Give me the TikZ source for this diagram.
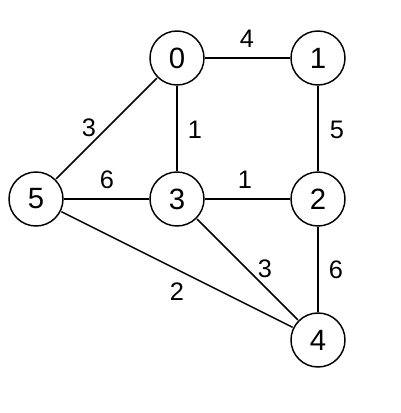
\documentclass[tikz,border=0pt]{standalone}
\usepackage{fontspec}
\setmainfont{Liberation Sans}
\begin{document}
\begin{tikzpicture}[x=0.75pt,y=-0.75pt,
  vert/.style={circle,draw,line width=1.1pt,minimum size=40.5pt,inner sep=0pt,outer sep=1pt,font=\fontsize{22}{22}\selectfont},
  wlab/.style={font=\fontsize{19}{19}\selectfont,inner sep=0pt},
  conn/.style={line width=1.1pt}]
\useasboundingbox (0,0) rectangle (400,413);
\node[vert] (n0) at (177,58) {0};
\node[vert] (n1) at (318,58) {1};
\node[vert] (n5) at (36,199) {5};
\node[vert] (n3) at (177,199) {3};
\node[vert] (n2) at (318,199) {2};
\node[vert] (n4) at (318,340) {4};
\draw[conn] (n0) -- (n1);
\draw[conn] (n1) -- (n2);
\draw[conn] (n0) -- (n3);
\draw[conn] (n0) -- (n5);
\draw[conn] (n5) -- (n3);
\draw[conn] (n3) -- (n2);
\draw[conn] (n3) -- (n4);
\draw[conn] (n2) -- (n4);
\draw[conn] (n5) -- (n4);
\node[wlab] (l01) at (247,39) {4};
\node[wlab] (l12) at (337,130) {5};
\node[wlab] (l03) at (195,130) {1};
\node[wlab] (l05) at (89,128) {3};
\node[wlab] (l53) at (107,180) {6};
\node[wlab] (l32) at (245,180) {1};
\node[wlab] (l34) at (265,269) {3};
\node[wlab] (l24) at (336,270) {6};
\node[wlab] (l54) at (177,292) {2};
\end{tikzpicture}
\end{document}
